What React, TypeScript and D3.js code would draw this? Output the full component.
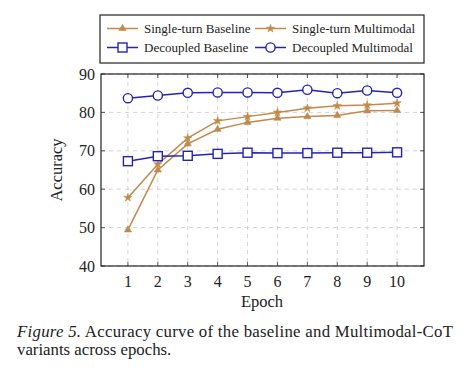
import React from "react";
import * as d3 from "d3";

const epochs = [1, 2, 3, 4, 5, 6, 7, 8, 9, 10];
const singleTurnBaseline = [49.4, 65.0, 71.8, 75.6, 77.4, 78.5, 78.9, 79.2, 80.4, 80.5];
const singleTurnMultimodal = [57.8, 66.5, 73.3, 77.8, 78.9, 80.0, 81.1, 81.7, 81.9, 82.4];
const decoupledBaseline = [67.3, 68.6, 68.7, 69.2, 69.5, 69.4, 69.4, 69.5, 69.5, 69.6];
const decoupledMultimodal = [83.7, 84.4, 85.1, 85.2, 85.2, 85.1, 85.9, 85.0, 85.7, 85.1];
const yTicks = [40, 50, 60, 70, 80, 90];

const ORANGE = "#c08a4c";
const BLUE = "#2323b4";
const FONT = "Liberation Serif, Times New Roman, Times, serif";

type Marker = "triangle" | "star" | "square" | "circle";

function MarkerShape({ type, x, y, color }: { type: Marker; x: number; y: number; color: string }) {
  if (type === "triangle") {
    const p = d3.symbol().type(d3.symbolTriangle).size(22)();
    return <path d={p || ""} transform={`translate(${x},${y})`} fill={color} stroke={color} strokeWidth={0.6} />;
  }
  if (type === "star") {
    const p = d3.symbol().type(d3.symbolStar).size(22)();
    return <path d={p || ""} transform={`translate(${x},${y})`} fill={color} stroke={color} strokeWidth={0.5} />;
  }
  if (type === "square") {
    return <rect x={x - 4.5} y={y - 4.5} width={9} height={9} fill="white" stroke={color} strokeWidth={1.4} />;
  }
  return <circle cx={x} cy={y} r={4.6} fill="white" stroke={color} strokeWidth={1.4} />;
}

export default function App() {
  const W = 474, H = 382;
  const left = 101, right = 424, top = 74, bottom = 266;
  const x = d3.scaleLinear().domain([0.1, 10.9]).range([left, right]);
  const y = d3.scaleLinear().domain([40, 90]).range([bottom, top]);
  const line = d3.line<number>().x((_, i) => x(epochs[i])).y((d) => y(d));

  const series: { name: string; values: number[]; color: string; marker: Marker }[] = [
    { name: "Single-turn Baseline", values: singleTurnBaseline, color: ORANGE, marker: "triangle" },
    { name: "Single-turn Multimodal", values: singleTurnMultimodal, color: ORANGE, marker: "star" },
    { name: "Decoupled Baseline", values: decoupledBaseline, color: BLUE, marker: "square" },
    { name: "Decoupled Multimodal", values: decoupledMultimodal, color: BLUE, marker: "circle" },
  ];

  const legendPos = [
    { lx: 107, ty: 28.5 },
    { lx: 255, ty: 28.5 },
    { lx: 107, ty: 47.5 },
    { lx: 255, ty: 47.5 },
  ];

  return (
    <svg width={W} height={H} style={{ position: "absolute", left: 0, top: 0, background: "white", fontFamily: FONT }}>
      <rect width={W} height={H} fill="white" />
      {/* grid */}
      {epochs.map((e) => (
        <line key={"gx" + e} x1={x(e)} x2={x(e)} y1={top} y2={bottom} stroke="#c8c8c8" strokeDasharray="4,4" strokeWidth={0.8} />
      ))}
      {yTicks.map((t) => (
        <line key={"gy" + t} x1={left} x2={right} y1={y(t)} y2={y(t)} stroke="#c8c8c8" strokeDasharray="4,4" strokeWidth={0.8} />
      ))}
      {/* ticks */}
      {epochs.map((e) => (
        <g key={"tx" + e}>
          <line x1={x(e)} x2={x(e)} y1={bottom} y2={bottom - 4} stroke="#333" strokeWidth={0.8} />
          <line x1={x(e)} x2={x(e)} y1={top} y2={top + 4} stroke="#333" strokeWidth={0.8} />
          <text x={x(e)} y={287} fontSize={16} textAnchor="middle" fill="#222">{e}</text>
        </g>
      ))}
      {yTicks.map((t) => (
        <g key={"ty" + t}>
          <line x1={left} x2={left + 4} y1={y(t)} y2={y(t)} stroke="#333" strokeWidth={0.8} />
          <line x1={right} x2={right - 4} y1={y(t)} y2={y(t)} stroke="#333" strokeWidth={0.8} />
          <text x={95} y={y(t) + 5.5} fontSize={16} textAnchor="end" fill="#222">{t}</text>
        </g>
      ))}
      {/* series */}
      {series.map((s) => (
        <g key={s.name}>
          <path d={line(s.values) || ""} fill="none" stroke={s.color} strokeWidth={1.5} />
          {s.values.map((v, i) => (
            <MarkerShape key={i} type={s.marker} x={x(epochs[i])} y={y(v)} color={s.color} />
          ))}
        </g>
      ))}
      {/* frame */}
      <rect x={left} y={top} width={right - left} height={bottom - top} fill="none" stroke="#222" strokeWidth={1.2} />
      {/* axis labels */}
      <text x={262} y={307} fontSize={16.5} textAnchor="middle" fill="#222">Epoch</text>
      <text transform={`translate(62,170) rotate(-90)`} fontSize={16.5} textAnchor="middle" fill="#222">Accuracy</text>
      {/* legend */}
      <rect x={100} y={15} width={324} height={48} fill="white" stroke="#222" strokeWidth={1.2} />
      {series.map((s, i) => {
        const p = legendPos[i];
        const cy = p.ty;
        return (
          <g key={"lg" + s.name}>
            <line x1={p.lx} x2={p.lx + 31} y1={cy} y2={cy} stroke={s.color} strokeWidth={1.5} />
            <MarkerShape type={s.marker} x={p.lx + 15.5} y={cy} color={s.color} />
            <text x={p.lx + 37} y={cy + 4.5} fontSize={13} fill="#222">{s.name}</text>
          </g>
        );
      })}
      {/* caption */}
      <text x={17} y={337} fontSize={16.8} fill="#222" textLength={436} lengthAdjust="spacing">
        <tspan fontStyle="italic">Figure 5.</tspan> Accuracy curve of the baseline and Multimodal-CoT
      </text>
      <text x={17} y={355} fontSize={16.8} fill="#222">variants across epochs.</text>
    </svg>
  );
}
